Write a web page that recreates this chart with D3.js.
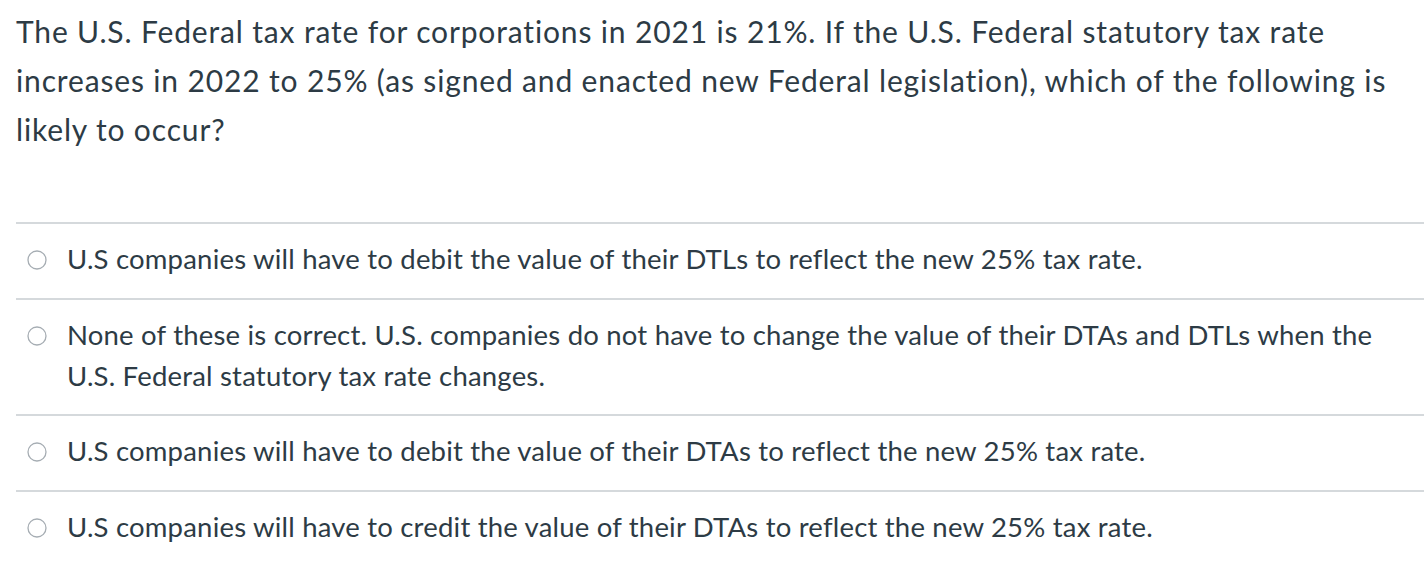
<!DOCTYPE html>
<html><head><meta charset="utf-8">
<script src="https://cdn.jsdelivr.net/npm/d3@7"></script>
<style>body{margin:0;background:#fff}</style></head>
<body><svg id="c" width="1428" height="574"></svg>
<script>
const questionLines = [
  "The U.S. Federal tax rate for corporations in 2021 is 21%. If the U.S. Federal statutory tax rate",
  "increases in 2022 to 25% (as signed and enacted new Federal legislation), which of the following is",
  "likely to occur?"
];
const optionLines = [
  ["U.S companies will have to debit the value of their DTLs to reflect the new 25% tax rate."],
  ["None of these is correct. U.S. companies do not have to change the value of their DTAs and DTLs when the",
   "U.S. Federal statutory tax rate changes."],
  ["U.S companies will have to debit the value of their DTAs to reflect the new 25% tax rate."],
  ["U.S companies will have to credit the value of their DTAs to reflect the new 25% tax rate."]
];
const svg = d3.select("#c");
const font = "Lato, 'Open Sans', sans-serif";
svg.selectAll("text.q").data(questionLines).join("text")
  .attr("x", 16).attr("y", (d,i)=>43+i*49)
  .attr("font-family", font).attr("font-size", 30).attr("letter-spacing", 0.85)
  .attr("fill", "#2d3b45").text(d=>d);
const sepY = [223, 299, 415, 491];
const textY = [269, 345, 461, 537];
svg.selectAll("line.s").data(sepY).join("line")
  .attr("x1", 16).attr("x2", 1424).attr("y1", d=>d).attr("y2", d=>d)
  .attr("stroke", "#c7cdd1").attr("stroke-width", 1.5);
optionLines.forEach((lines, k) => {
  svg.append("circle").attr("cx", 37).attr("cy", textY[k]-9).attr("r", 9)
    .attr("fill", "#fff").attr("stroke", "#a6adb3").attr("stroke-width", 1.3);
  svg.selectAll(null).data(lines).join("text")
    .attr("x", 67).attr("y", (d,i)=>textY[k]+i*41)
    .attr("font-family", font).attr("font-size", 27.5).attr("letter-spacing", 0.2)
    .attr("fill", "#2d3b45").text(d=>d);
});
</script></body></html>
